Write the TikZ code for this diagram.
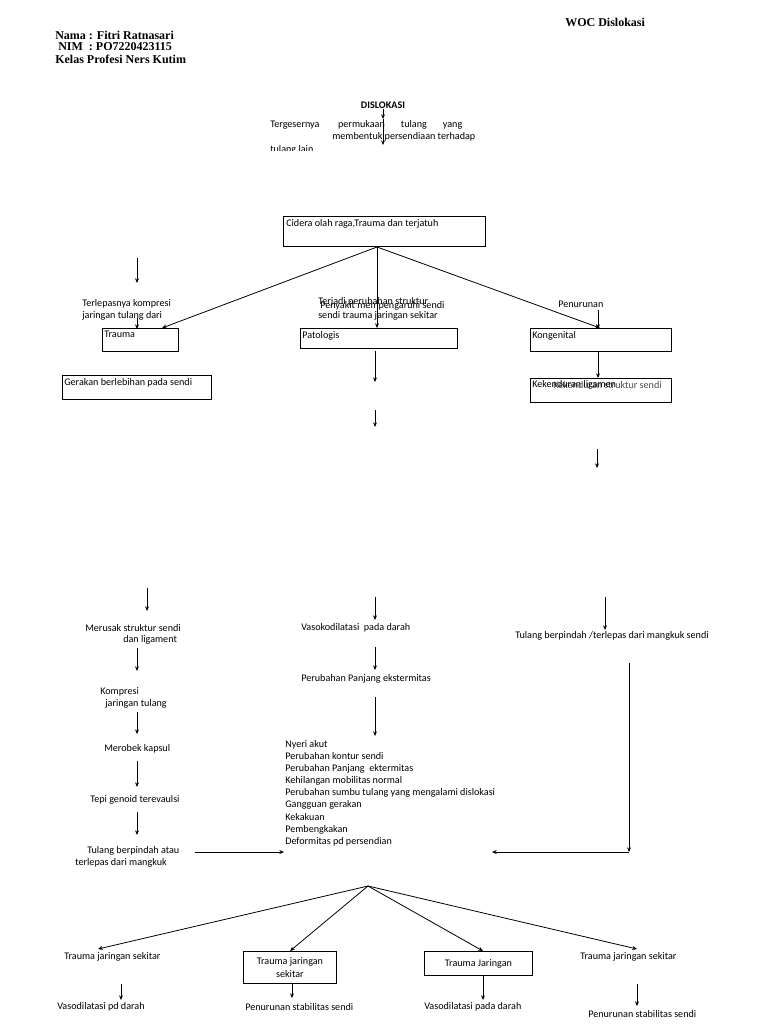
\documentclass[tikz,border=0pt]{standalone}
\usepackage{fontspec}
\setmainfont{Carlito}
\newfontfamily\tnr{Liberation Serif}
\usetikzlibrary{arrows.meta}
\tikzset{
  txt/.style={anchor=west, inner sep=0pt, font=\fontsize{7.6}{9}\selectfont},
  hdr/.style={anchor=west, inner sep=0pt, font=\tnr\bfseries\fontsize{9}{10}\selectfont},
  boxn/.style={draw, line width=0.6pt, anchor=north west, inner sep=0pt},
  arr/.style={line width=0.6pt, -{Stealth[length=3.5pt,width=3pt]}},
  ln/.style={line width=0.6pt}
}
\begin{document}
\begin{tikzpicture}[x=0.75pt,y=-0.75pt]
\useasboundingbox (0,0) rectangle (768,1024);
% header
\node[hdr] (woc) at (565,22) {WOC Dislokasi};
\node[hdr] (nama) at (55,35) {Nama : Fitri Ratnasari};
\node[hdr] (nim) at (58,47) {NIM \ : PO7220423115};
\node[hdr] (kelas) at (55,59) {Kelas Profesi Ners Kutim};
% top definition
\node[txt, font=\bfseries\fontsize{7.6}{9}\selectfont, anchor=center] (dis) at (383,105) {DISLOKASI};
\node[txt] (def1) at (270,125) {Tergesernya\hspace{14pt}permukaan\hspace{12pt}tulang\hspace{12pt}yang};
\node[txt] (def2) at (332,137) {membentuk persendiaan terhadap};
\begin{scope}
\clip (250,140) rectangle (500,150);
\node[txt] (def3) at (270,150) {tulang lain};
\end{scope}
\coordinate (d0) at (383,109);
\coordinate (d1) at (383,119);
\coordinate (d2) at (383,145);
\draw[arr] (d0) -- (d1);
\draw[arr] (d1) -- (d2);
% main cause box
\node[boxn, minimum width=151.5pt, minimum height=22.5pt] (cid) at (283,216) {};
\node[txt, anchor=north west] (cidt) at (286,219) {Cidera olah raga,Trauma dan terjatuh};
\coordinate (apex) at (377,247);
% three boxes
\node[boxn, minimum width=57pt, minimum height=17.25pt] (trauma) at (102,328) {};
\node[txt, anchor=north west] (traumat) at (104,331) {Trauma};
\node[boxn, minimum width=117.75pt, minimum height=15pt] (pato) at (300,328) {};
\node[txt, anchor=north west] (patot) at (302,331) {Patologis};
\node[boxn, minimum width=105.75pt, minimum height=17.25pt] (kong) at (530,328) {};
\node[txt, anchor=north west] (kongt) at (532,331) {Kongenital};
\draw[arr] (apex) -- (162,328);
\draw[arr] (apex) -- (377,328);
\draw[arr] (apex) -- (600,328);
% left upper
\coordinate (la0) at (137,258);
\coordinate (la1) at (137,283);
\draw[arr] (la0) -- (la1);
\node[txt] (terl1) at (82,304) {Terlepasnya kompresi};
\node[txt] (terl2) at (82,316) {jaringan tulang dari};
\coordinate (lb0) at (137,318);
\coordinate (lb1) at (137,329);
\draw[arr] (lb0) -- (lb1);
\node[boxn, minimum width=111.75pt, minimum height=18pt] (ger) at (62,375) {};
\node[txt, anchor=north west] (gert) at (64,378) {Gerakan berlebihan pada sendi};
% middle upper
\node[txt] (terj) at (318,302) {Terjadi perubahan struktur};
\node[txt] (peny) at (320,306) {Penyakit mempengaruhi sendi};
\node[txt] (send) at (318,316) {sendi trauma jaringan sekitar};
\coordinate (ma0) at (375,351);
\coordinate (ma1) at (375,382);
\draw[arr] (ma0) -- (ma1);
\coordinate (mb0) at (375,410);
\coordinate (mb1) at (375,427);
\draw[arr] (mb0) -- (mb1);
% right upper
\node[txt] (penu) at (558,304) {Penurunan};
\coordinate (ra0) at (598,310);
\coordinate (ra1) at (598,329);
\draw[arr] (ra0) -- (ra1);
\node[boxn, minimum width=105.75pt, minimum height=18pt] (kek) at (530,378) {};
\node[txt, anchor=north west, text=black!70] (kekt2) at (553,381) {Kekenduran struktur sendi};
\node[txt, anchor=north west] (kekt) at (532,380) {Kekenduran ligamen};
\draw[arr] (kong.south -| 598,0) -- (kek.north -| 598,0);
\coordinate (rb0) at (597,449);
\coordinate (rb1) at (597,468);
\draw[arr] (rb0) -- (rb1);
% left column
\coordinate (l1a) at (147,588);
\coordinate (l1b) at (147,611);
\draw[arr] (l1a) -- (l1b);
\node[txt] (mer1) at (85,628) {Merusak struktur sendi};
\node[txt] (mer2) at (123,640) {dan ligament};
\coordinate (l2a) at (137,648);
\coordinate (l2b) at (137,671);
\draw[arr] (l2a) -- (l2b);
\node[txt] (komp1) at (100,692) {Kompresi};
\begin{scope}
\clip (60,698) rectangle (250,707);
\node[txt] (komp2) at (105,704) {jaringan tulang};
\end{scope}
\coordinate (l3a) at (137,712);
\coordinate (l3b) at (137,734);
\draw[arr] (l3a) -- (l3b);
\node[txt] (kaps) at (104,749) {Merobek kapsul};
\coordinate (l4a) at (137,761);
\coordinate (l4b) at (137,787);
\draw[arr] (l4a) -- (l4b);
\node[txt] (tepi) at (90,800) {Tepi genoid terevaulsi};
\coordinate (l5a) at (137,812);
\coordinate (l5b) at (137,835);
\draw[arr] (l5a) -- (l5b);
\node[txt] (tul1) at (87,851) {Tulang berpindah atau};
\begin{scope}
\clip (60,857) rectangle (250,866);
\node[txt] (tul2) at (75,863) {terlepas dari mangkuk};
\end{scope}
% middle column
\coordinate (m1a) at (375,597);
\coordinate (m1b) at (375,620);
\draw[arr] (m1a) -- (m1b);
\node[txt] (vaso) at (301,628) {Vasokodilatasi\ \ pada darah};
\coordinate (m2a) at (375,647);
\coordinate (m2b) at (375,670);
\draw[arr] (m2a) -- (m2b);
\node[txt] (perpan) at (301,679) {Perubahan Panjang ekstermitas};
\coordinate (m3a) at (375,697);
\coordinate (m3b) at (375,736);
\draw[arr] (m3a) -- (m3b);
\node[txt, anchor=north west, align=left, font=\fontsize{7.6}{9.1}\selectfont] (list) at (285,740) {Nyeri akut\\Perubahan kontur sendi\\Perubahan Panjang\ \ ektermitas\\Kehilangan mobilitas normal\\Perubahan sumbu tulang yang mengalami dislokasi\\Gangguan gerakan\\Kekakuan\\Pembengkakan\\Deformitas pd persendian};
\coordinate (lin) at (195,852);
\coordinate (lout) at (284,852);
\draw[arr] (lin) -- (lout);
% right column
\coordinate (r1a) at (605,597);
\coordinate (r1b) at (605,630);
\draw[arr] (r1a) -- (r1b);
\node[txt] (tulr) at (515,636) {Tulang berpindah /terlepas dari mangkuk sendi};
\coordinate (r2a) at (629,663);
\coordinate (r2b) at (629,852);
\coordinate (r2c) at (492,852);
\draw[arr] (r2a) -- (r2b);
\draw[arr] (r2b) -- (r2c);
% bottom
\coordinate (bapex) at (368,886);
\node[txt] (tj1) at (64,957) {Trauma jaringan sekitar};
\node[boxn, minimum width=69.75pt, minimum height=24pt] (bb1) at (243,951) {};
\node[txt, anchor=center, align=center, font=\fontsize{7.6}{10}\selectfont] (bb1t) at (bb1.center) {Trauma jaringan\\sekitar};
\node[boxn, minimum width=81pt, minimum height=18pt] (bb2) at (424,951) {};
\node[txt, anchor=center] (bb2t) at (bb2.center) {Trauma Jaringan};
\node[txt] (tj4) at (580,957) {Trauma jaringan sekitar};
\draw[arr] (bapex) -- (98,949);
\draw[arr] (bapex) -- (290,951);
\draw[arr] (bapex) -- (483,951);
\draw[arr] (bapex) -- (637,949);
\coordinate (b1a) at (121,984);
\coordinate (b1b) at (121,1000);
\draw[arr] (b1a) -- (b1b);
\draw[arr] (bb1.south -| 292,0) -- (292,998);
\draw[arr] (bb2.south -| 483,0) -- (483,1000);
\coordinate (b4a) at (637,984);
\coordinate (b4b) at (637,1006);
\draw[arr] (b4a) -- (b4b);
\node[txt] (v1) at (57,1007) {Vasodilatasi pd darah};
\node[txt] (p2) at (245,1007) {Penurunan stabilitas sendi};
\node[txt] (v3) at (424,1007) {Vasodilatasi pada darah};
\node[txt] (p4) at (588,1014) {Penurunan stabilitas sendi};
\end{tikzpicture}
\end{document}
